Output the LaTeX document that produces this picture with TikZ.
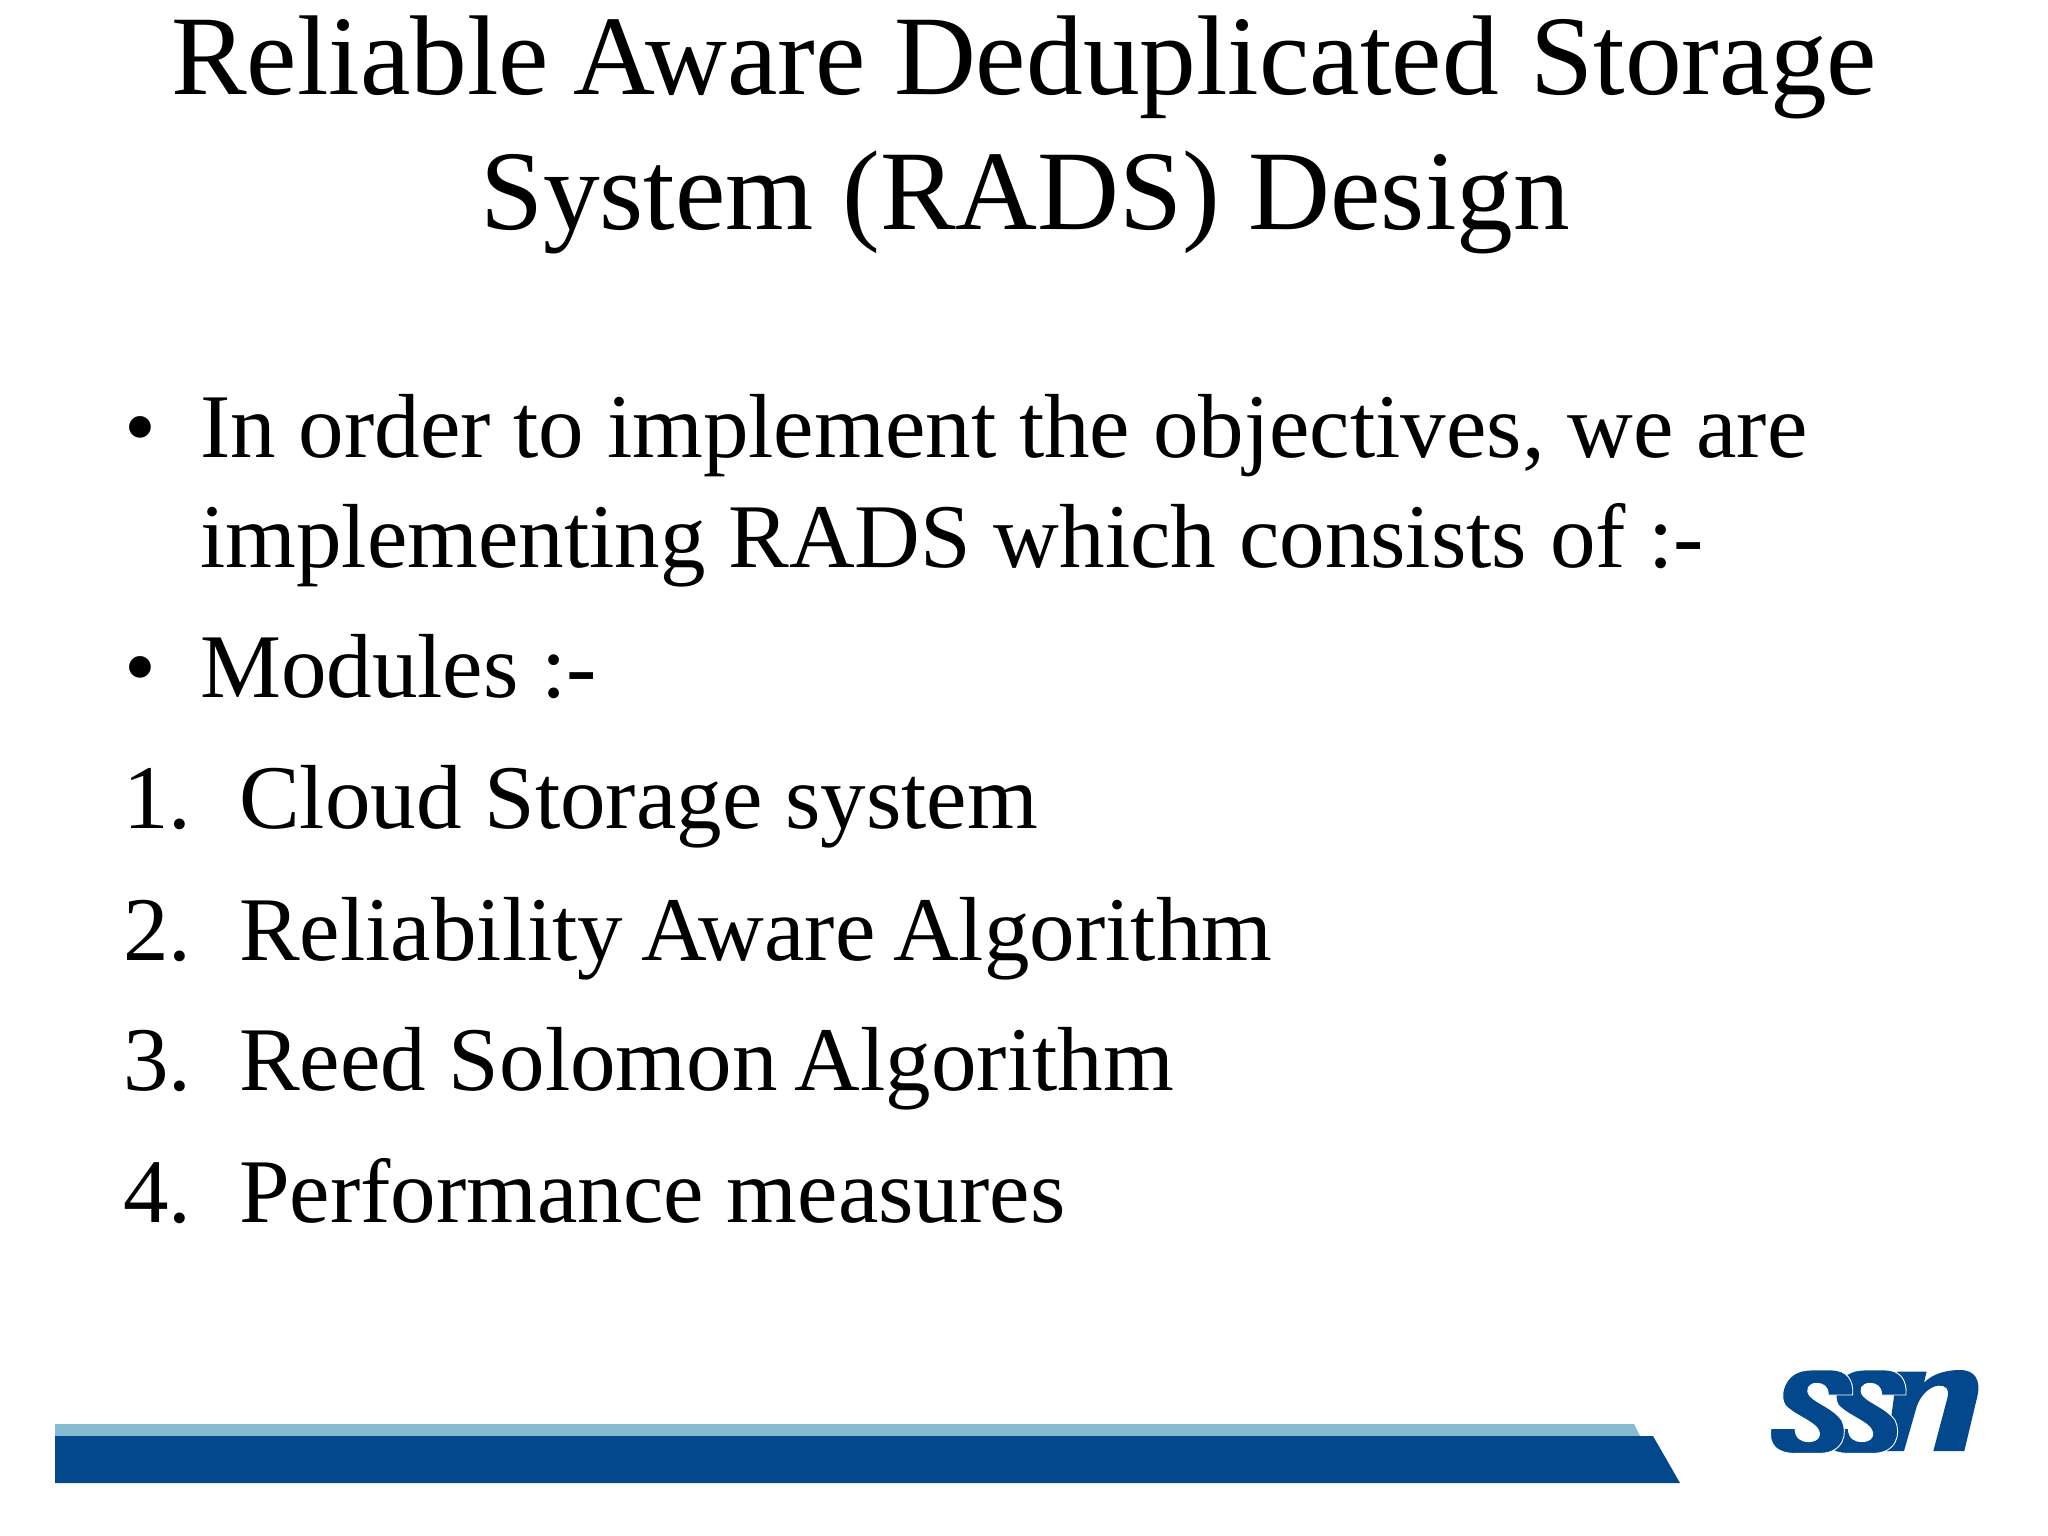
\documentclass[tikz,border=0pt]{standalone}
\usepackage{fontspec}
\setmainfont{Liberation Serif}
\definecolor{ssnblue}{HTML}{03478C}
\definecolor{ssnlight}{HTML}{84BBD0}
\newcommand{\ssnS}{(250,150) .. controls (262,105) and (295,90) .. (335,90) -- (395,90) .. controls (440,90) and (462,120) .. (458,165) -- (385,165) .. controls (385,140) and (370,130) .. (350,130) .. controls (325,130) and (315,150) .. (330,168) .. controls (350,190) and (400,205) .. (425,240) .. controls (445,280) and (430,340) .. (360,340) -- (285,340) .. controls (230,340) and (205,315) .. (213,265) -- (285,265) .. controls (285,295) and (305,305) .. (325,305) .. controls (355,305) and (368,285) .. (350,262) .. controls (330,240) and (275,220) .. (255,195) .. controls (247,182) and (247,165) .. (250,150) -- cycle}
\tikzset{
  titleline/.style={anchor=base,font=\fontsize{113.4}{113.4}\selectfont,text=black,inner sep=0pt},
  bodyline/.style={anchor=base west,font=\fontsize{91}{91}\selectfont,text=black,inner sep=0pt},
  logoink/.style={fill=ssnblue,draw=white,line width=0.9pt}
}
\begin{document}
\begin{tikzpicture}[x=1pt,y=-1pt]
\useasboundingbox (0,0) rectangle (2048,1536);
\fill[white] (0,0) rectangle (2048,1536);
\node[titleline] (t1) at (1024,95) {Reliable \kern-3.5pt Aware Deduplicated \kern3.5pt Storage};
\node[titleline] (t2) at (1025,229) {System (RADS) Design};
\node[bodyline] (b1) at (124,457) {•};
\node[bodyline] (l1) at (200,457) {In order to implement the objectives, we are};
\node[bodyline] (l2) at (200,567) {implementing RADS which consists of :-};
\node[bodyline] (b2) at (124,697) {•};
\node[bodyline] (l3) at (200,697) {Modules :-};
\node[bodyline] (n1) at (123,828) {1.};
\node[bodyline] (i1) at (239,828) {Cloud Storage system};
\node[bodyline] (n2) at (123,960) {2.};
\node[bodyline] (i2) at (239,960) {Reliability \kern-5pt Aware \kern-5pt Algorithm};
\node[bodyline] (n3) at (123,1090) {3.};
\node[bodyline] (i3) at (239,1090) {Reed Solomon \kern-5.5pt Algorithm};
\node[bodyline] (n4) at (123,1222) {4.};
\node[bodyline] (i4) at (239,1222) {Performance measures};
% footer band
\fill[ssnlight] (55,1424) -- (1634,1424) -- (1640,1436) -- (55,1436) -- cycle;
\fill[ssnblue] (55,1436) -- (1653,1436) -- (1680,1483) -- (55,1483) -- cycle;
% logo
\begin{scope}[shift={(1700,1340)},x=0.3333pt,y=-0.3333pt]
  \fill[ssnblue] (592,95) -- (680,95) -- (672,128) .. controls (700,100) and (740,90) .. (780,90) .. controls (825,90) and (842,120) .. (833,165) -- (793,333) -- (700,333) -- (742,175) .. controls (750,145) and (735,135) .. (715,137) .. controls (685,140) and (660,170) .. (650,200) -- (612,333) -- (560,333) -- cycle;
  \begin{scope}[xshift=53.3pt]
    \path[logoink] \ssnS;
  \end{scope}
  \path[logoink] \ssnS;
\end{scope}
\end{tikzpicture}
\end{document}
